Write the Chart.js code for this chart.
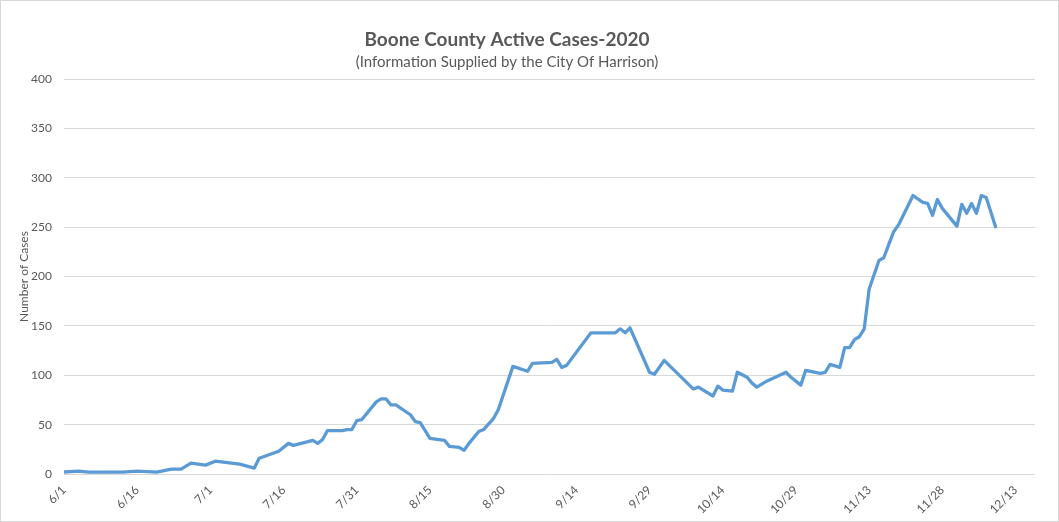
<!DOCTYPE html>
<html>
<head>
<meta charset="utf-8">
<script src="https://cdn.jsdelivr.net/npm/chart.js@4.4.0/dist/chart.umd.min.js"></script>
<style>
  body { margin: 0; background: #fff; }
  canvas { display: block; }
</style>
</head>
<body>
<canvas id="grafico" width="1059" height="522"></canvas>
<script>
// report dates (2020) and active cases
var fechas = ['6/1','6/4','6/6','6/13','6/16','6/20','6/23','6/25','6/27','6/30',
  '7/2','7/7','7/10','7/11','7/15','7/17','7/18','7/22','7/23','7/24',
  '7/25','7/28','7/29','7/30','7/31','8/1','8/4','8/5','8/6','8/7',
  '8/8','8/11','8/12','8/13','8/15','8/18','8/19','8/21','8/22','8/23',
  '8/25','8/26','8/28','8/29','9/1','9/4','9/5','9/9','9/10','9/11',
  '9/12','9/17','9/22','9/23','9/24','9/25','9/29','9/30','10/1','10/2',
  '10/8','10/9','10/12','10/13','10/14','10/16','10/17','10/19','10/20','10/21',
  '10/23','10/27','10/28','10/30','10/31','11/3','11/4','11/5','11/7','11/8',
  '11/9','11/10','11/11','11/12','11/13','11/15','11/16','11/17','11/18','11/19',
  '11/22','11/24','11/25','11/26','11/27','11/28','12/1','12/2','12/3','12/4',
  '12/5','12/6','12/7','12/9'];
var casos = [2,3,2,2,3,2,5,5,11,9,
  13,10,6,16,23,31,29,34,31,35,
  44,44,45,45,54,55,73,76,76,70,
  70,60,53,52,36,34,28,27,24,31,
  43,45,56,65,109,104,112,113,116,108,
  110,143,143,147,143,148,103,101,108,115,
  86,88,79,89,85,84,103,98,92,88,
  94,103,98,90,105,102,103,111,108,128,
  128,136,139,147,187,216,219,232,245,252,
  282,275,274,262,278,269,251,273,264,274,
  264,282,280,249];
var tituloTexto = 'Boone County Active Cases-2020';
var subtituloTexto = '(Information Supplied by the City Of Harrison)';
var ejeY = 'Number of Cases';

var inicio = new Date(2020, 5, 1);
function aDia(f) {
  var p = f.split('/');
  return Math.round((new Date(2020, p[0] - 1, +p[1]) - inicio) / 86400000);
}
function aFecha(n) {
  var d = new Date(2020, 5, 1 + n);
  return (d.getMonth() + 1) + '/' + d.getDate();
}
var puntos = fechas.map(function (f, i) { return {x: aDia(f), y: casos[i]}; });

var gris = '#595959';
var linea = '#d9d9d9';

var titulos = {
  id: 'titulos',
  afterDraw: function (chart) {
    var c = chart.ctx;
    c.save();
    c.fillStyle = gris;
    c.textAlign = 'center';
    c.textBaseline = 'middle';
    c.font = 'bold 19px Lato';
    c.fillText(tituloTexto, 507, 40);
    c.font = '15px Lato';
    c.fillText(subtituloTexto, 507, 62);
    c.strokeStyle = linea;
    c.lineWidth = 1;
    c.strokeRect(0.5, 0.5, chart.width - 1, chart.height - 1);
    c.restore();
  }
};

var ctx = document.getElementById('grafico');
var myChart = new Chart(ctx, {
  type: 'line',
  data: {
    datasets: [{
      label: 'Active Cases',
      data: puntos,
      borderColor: '#5b9bd5',
      borderWidth: 3.3,
      pointRadius: 0,
      tension: 0,
      borderJoinStyle: 'round',
      fill: false
    }]
  },
  options: {
    responsive: false,
    animation: false,
    devicePixelRatio: 1,
    layout: { padding: {top: 79, right: 24, bottom: 0, left: 0} },
    plugins: {
      legend: { display: false },
      tooltip: { enabled: false }
    },
    scales: {
      x: {
        type: 'linear',
        min: 0,
        max: 199,
        afterFit: function (s) { s.height = 48; },
        afterBuildTicks: function (s) {
          var t = [];
          for (var v = 0; v <= 195; v += 15) t.push({value: v});
          s.ticks = t;
        },
        grid: { display: false, drawTicks: false },
        border: { display: false },
        ticks: {
          minRotation: 45,
          maxRotation: 45,
          padding: 9,
          color: gris,
          font: { family: 'Lato', size: 12 },
          callback: function (v) { return aFecha(v); }
        }
      },
      y: {
        min: 0,
        max: 400,
        afterFit: function (s) { s.width = 64; },
        grid: { color: linea, drawTicks: false },
        border: { display: false },
        ticks: {
          stepSize: 50,
          padding: 12,
          color: gris,
          font: { family: 'Lato', size: 12 }
        },
        title: {
          display: true,
          text: ejeY,
          color: gris,
          padding: {top: 17, bottom: 0},
          font: { family: 'Lato', size: 12 }
        }
      }
    }
  },
  plugins: [titulos]
});
</script>
</body>
</html>
